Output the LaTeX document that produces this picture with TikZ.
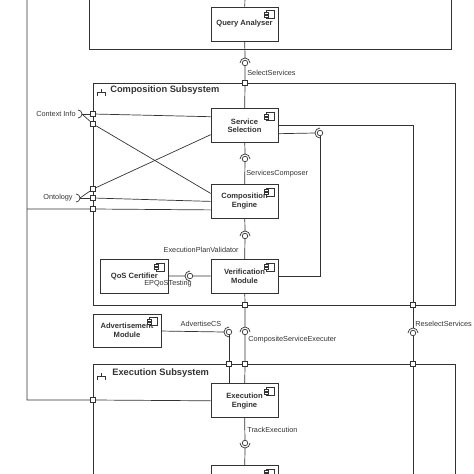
\documentclass[tikz,border=0pt]{standalone}
\usepackage{fontspec}
\setmainfont{Liberation Sans}
\usetikzlibrary{positioning}
\tikzstyle{comp} = [draw, fill=white, rectangle, minimum width=67pt, minimum height=34pt, inner sep=1pt, align=center, font=\fontsize{7.6}{8.8}\selectfont\bfseries]
\tikzstyle{port} = [draw, fill=white, rectangle, minimum size=5.5pt, inner sep=0pt]
\tikzstyle{ball} = [draw, fill=white, circle, minimum size=5.5pt, inner sep=0pt]
\tikzstyle{lbl} = [inner sep=0pt, font=\fontsize{7.3}{8}\selectfont]
\tikzstyle{title} = [inner sep=0pt, anchor=west, font=\fontsize{9.3}{10}\selectfont\bfseries]
\newcommand{\icon}[1]{
  \draw[fill=white, line width=0.5pt] ([shift={(-12pt,-4pt)}]#1.north east) rectangle ++(8pt,-8pt);
  \draw[fill=white, line width=0.5pt] ([shift={(-14pt,-5.5pt)}]#1.north east) rectangle ++(4pt,-2pt);
  \draw[fill=white, line width=0.5pt] ([shift={(-14pt,-8.5pt)}]#1.north east) rectangle ++(4pt,-2pt);}
\newcommand{\fork}[1]{
  \draw[line width=0.6pt] ([shift={(-4pt,-4pt)}]#1) -- ++(0pt,4pt) -- ++(8pt,0pt) -- ++(0pt,-4pt)
    ([shift={(0pt,0pt)}]#1) -- ++(0pt,3.5pt);}
\newcommand{\iface}[3]{
  \node[ball] (#1) at (#2) {};
  \draw (#1.center) ++(#3:5pt) arc[start angle=#3, delta angle=180, radius=5pt];}

\begin{document}
\begin{tikzpicture}[x=1pt, y=-1pt, line width=0.7pt, color=black!80]
  \useasboundingbox (0,0) rectangle (474,474);
  % subsystem frames
  \draw (89,-5) rectangle (451,49);
  \draw (93,83) rectangle (455,305);
  \draw (93,364) rectangle (455,500);
  \fork{101,92}
  \node[title] (CStitle) at (110,90) {Composition Subsystem};
  \fork{101,376}
  \node[title] (EStitle) at (112,373) {Execution Subsystem};

  % components
  \node[comp] (QA) at (244.5,24) {Query Analyser};
  \node[comp, below=67pt of QA] (SS) {Service\\Selection};
  \node[comp, below=41pt of SS] (CE) {Composition\\Engine};
  \node[comp, below=40pt of CE] (VM) {Verification\\Module};
  \node[comp, left=42pt of VM, minimum width=68pt] (QoS) {QoS Certifier};
  \node[comp, below=90pt of VM] (EE) {Execution\\Engine};
  \node[comp, below=47pt of EE] (TM) {};
  \node[comp, minimum width=68pt, minimum height=33pt] (AM) at (127,330.5) {Advertisement\\Module};
  \icon{QA} \icon{SS} \icon{CE} \icon{VM} \icon{QoS} \icon{EE} \icon{TM} \icon{AM}

  % ports
  \node[port] (p1) at (245,83) {};
  \node[port] (pc1) at (93,114) {};
  \node[port] (pc2) at (93,124) {};
  \node[port] (po1) at (93,189) {};
  \node[port] (po2) at (93,198) {};
  \node[port] (po3) at (93,209) {};
  \node[port] (p2) at (245,305) {};
  \node[port] (pr1) at (413,305) {};
  \node[port] (p3) at (245,364) {};
  \node[port] (p4) at (229,364) {};
  \node[port] (pr2) at (413,364) {};
  \node[port] (pe) at (93,400) {};

  % interfaces
  \iface{s1}{245,63}{0}
  \iface{s3}{245,159}{0}
  \iface{s4}{245,236}{0}
  \iface{s2}{320,133}{90}
  \iface{s5}{190,276}{90}
  \iface{s8}{229,332}{90}
  \iface{s6}{245,332}{0}
  \iface{s7}{413,333}{0}
  \iface{s9}{245,443}{180}

  \coordinate (qtop) at (245,-5);
  \coordinate (otop) at (27,-5);
  \coordinate (rbot) at (413,500);
  \coordinate (ci) at (82,114);
  \coordinate (oi) at (80,198);

  % connectors
  \draw (QA) -- (qtop);
  \draw (QA) -- ([yshift=5pt]s1.center);
  \draw (s1) -- (p1) -- (SS);
  \draw (SS) -- ([yshift=5pt]s3.center);
  \draw (s3) -- (CE);
  \draw (CE) -- ([yshift=5pt]s4.center);
  \draw (s4) -- (VM);
  \draw (VM) -- (p2) -- ([yshift=5pt]s6.center);
  \draw (s6) -- (p3) -- (EE);
  \draw (SS.east) -| (pr1);
  \draw (pr1) -- ([yshift=5pt]s7.center);
  \draw (s7) -- (pr2) -- (rbot);
  \draw ([yshift=-8pt]SS.east) -- ([xshift=-5pt]s2.center);
  \draw (s2) |- (VM.east);
  \draw (QoS) -- ([xshift=-5pt]s5.center);
  \draw (s5) -- (VM);
  \draw (AM) -- ([xshift=-5pt]s8.center);
  \draw (s8) -- (p4) -- (p4 |- EE.north);
  \draw (EE) -- (s9);
  \draw ([yshift=-5pt]s9.center) -- (TM);
  \draw (pc1) -- ([yshift=9pt]SS.west);
  \draw (pc2) -- ([yshift=8pt]CE.west);
  \draw ([yshift=-9pt]SS.west) -- (po1);
  \draw (po2) -- (CE.west);
  \draw (otop) |- (pe) -- (EE.west);
  \draw (otop |- po3) -- (po3) -- ([yshift=-8.5pt]CE.west);
  \draw ([shift={(-4pt,-4pt)}]ci) arc[start angle=-90, delta angle=180, radius=4pt];
  \draw (ci) -- (pc1);
  \draw (ci) -- (pc2);
  \draw ([shift={(-4pt,-4pt)}]oi) arc[start angle=-90, delta angle=180, radius=4pt];
  \draw (oi) -- (po1);
  \draw (oi) -- (po2);

  % labels
  \node[lbl, anchor=west] (l1) at (247,73) {SelectServices};
  \node[lbl, anchor=west] (l2) at (246,174) {ServicesComposer};
  \node[lbl, anchor=east] (l3) at (239,250) {ExecutionPlanValidator};
  \node[lbl] (l4) at (168,284) {EPQoSTesting};
  \node[lbl] (l5) at (201,324) {AdvertiseCS};
  \node[lbl, anchor=west] (l6) at (248,340) {CompositeServiceExecuter};
  \node[lbl, anchor=west] (l7) at (415,324) {ReselectServices};
  \node[lbl, anchor=west] (l8) at (247,430) {TrackExecution};
  \node[lbl, anchor=east] (l9) at (76,114) {Context Info};
  \node[lbl, anchor=east] (l10) at (73,198) {Ontology};
\end{tikzpicture}
\end{document}
